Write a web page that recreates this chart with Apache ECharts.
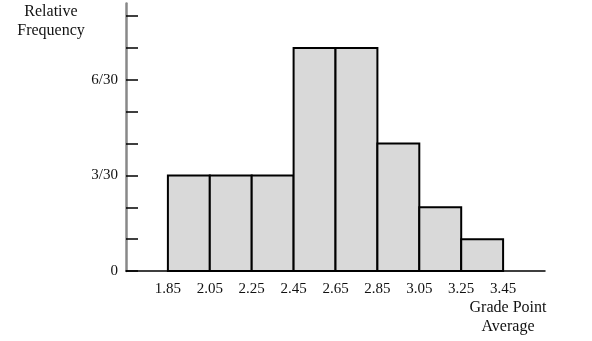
<!DOCTYPE html>
<html>
<head>
<meta charset="utf-8">
<script src="https://cdn.jsdelivr.net/npm/echarts@6/dist/echarts.min.js"></script>
<style>html,body{margin:0;padding:0;background:#fff;}#c{width:592px;height:341px;}</style>
</head>
<body>
<div id="c"></div>
<script>
var binEdges = [1.85, 2.05, 2.25, 2.45, 2.65, 2.85, 3.05, 3.25, 3.45];
var counts = [3, 3, 3, 7, 7, 4, 2, 1]; // relative frequency numerators (out of 30)
var total = 30;
var yTickValues = [0, 1, 2, 3, 4, 5, 6, 7, 8];
var yLabelValues = [0, 3, 6];
var xLabelValues = [1.85, 2.05, 2.25, 2.45, 2.65, 2.85, 3.05, 3.25, 3.45];
var yTitleLines = ['Relative', 'Frequency'];
var xTitleLines = ['Grade Point', 'Average'];

var barData = counts.map(function (c, i) { return [binEdges[i], binEdges[i + 1], c]; });
var font = '"Liberation Serif","DejaVu Serif",serif';

function titleText(lines, cx, cy0, gap) {
  return lines.map(function (t, i) {
    return { type: 'text', x: cx, y: cy0 + i * gap, style: { text: t, font: '16px ' + font, fill: '#111', textAlign: 'center', textVerticalAlign: 'middle' } };
  });
}

var chart = echarts.init(document.getElementById('c'));
chart.setOption({
  animation: false,
  backgroundColor: '#fff',
  grid: { left: 126, right: 47, top: 3.4, bottom: 70 },
  xAxis: {
    type: 'value', min: 1.65, max: 3.65,
    splitLine: { show: false },
    axisLine: { show: true, lineStyle: { color: '#000', width: 1.5 } },
    axisTick: { show: false },
    axisLabel: {
      customValues: xLabelValues, margin: 11,
      fontFamily: font, fontSize: 15, color: '#111',
      formatter: function (v) { return v.toFixed(2); }
    }
  },
  yAxis: {
    type: 'value', min: 0, max: 8.4,
    splitLine: { show: false },
    axisLine: { show: true, lineStyle: { color: '#888', width: 2.5 } },
    axisTick: { show: true, inside: true, length: 12, customValues: yTickValues, lineStyle: { color: '#000', width: 1.5 } },
    axisLabel: {
      customValues: yLabelValues, margin: 8,
      fontFamily: font, fontSize: 15, color: '#111',
      formatter: function (v) { return v === 0 ? '0' : v + '/' + total; }
    }
  },
  series: [{
    type: 'custom',
    data: barData,
    encode: { x: [0, 1], y: 2 },
    renderItem: function (params, api) {
      var p0 = api.coord([api.value(0), 0]);
      var p1 = api.coord([api.value(1), api.value(2)]);
      return {
        type: 'rect',
        shape: { x: p0[0], y: p1[1], width: p1[0] - p0[0], height: p0[1] - p1[1] },
        style: { fill: '#d9d9d9', stroke: '#000', lineWidth: 2 }
      };
    }
  }],
  graphic: titleText(yTitleLines, 51, 12, 19).concat(titleText(xTitleLines, 508, 308, 19))
});
</script>
</body>
</html>
